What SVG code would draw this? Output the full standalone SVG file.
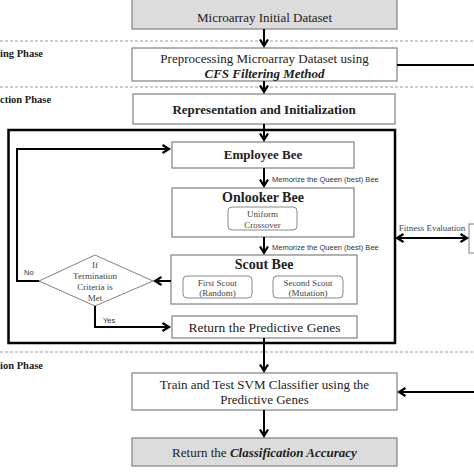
<svg xmlns="http://www.w3.org/2000/svg" width="474" height="474" viewBox="0 0 474 474">
<defs>
<style>
.box{fill:#fff;stroke:#808080;stroke-width:1.2}
.gbox{fill:#dcdcdc;stroke:#808080;stroke-width:1.2}
.rbox{fill:#fff;stroke:#8a8a8a;stroke-width:1}
.t{font-family:"Liberation Serif","Times New Roman",serif;fill:#222;text-anchor:middle}
.b{font-weight:bold}
.bi{font-weight:bold;font-style:italic}
.small{font-family:"Liberation Serif","Times New Roman",serif;fill:#444;text-anchor:middle;font-size:9px}
.lab{font-family:"Liberation Sans",Arial,sans-serif;fill:#333;font-size:7.5px}
.phase{font-family:"Liberation Serif","Times New Roman",serif;font-weight:bold;fill:#222;font-size:10.5px}
.dash{stroke:#9a9a9a;stroke-width:1;stroke-dasharray:3,2;fill:none}
.c{stroke:#000;stroke-width:2;fill:none}
</style>
<marker id="ah" markerUnits="userSpaceOnUse" markerWidth="11" markerHeight="11" refX="7.5" refY="5" orient="auto-start-reverse">
<path d="M1,1 L7.5,5 L1,9" fill="none" stroke="#000" stroke-width="2.2"/>
</marker>
</defs>
<rect width="474" height="474" fill="#fff"/>

<g id="phases">
<line class="dash" x1="0" y1="41" x2="474" y2="41"/>
<line class="dash" x1="0" y1="87" x2="474" y2="87"/>
<line class="dash" x1="0" y1="352" x2="474" y2="352"/>
<text class="phase" x="0" y="56.5">ing Phase</text>
<text class="phase" x="0" y="102.5">ction Phase</text>
<text class="phase" x="0" y="368.5">ion Phase</text>
</g>

<g id="loop-frame">
<rect x="8.5" y="130" width="386.5" height="213" fill="none" stroke="#000" stroke-width="2.5"/>
</g>

<g id="dataset">
<rect class="gbox" x="132" y="-2" width="265" height="31"/>
<text class="t" x="264.5" y="21.5" font-size="13">Microarray Initial Dataset</text>
</g>

<g id="preprocess">
<rect class="box" x="132" y="48" width="265" height="33"/>
<text class="t" x="264.5" y="62.5" font-size="13">Preprocessing Microarray Dataset using</text>
<text class="t bi" x="264.5" y="77.5" font-size="13">CFS Filtering Method</text>
</g>

<g id="representation">
<rect class="box" x="133" y="94" width="262" height="30"/>
<text class="t b" x="264" y="113.5" font-size="13">Representation and Initialization</text>
</g>

<g id="employee">
<rect class="box" x="172" y="142" width="182" height="26"/>
<text class="t b" x="263" y="158.5" font-size="13">Employee Bee</text>
</g>

<g id="onlooker">
<rect class="box" x="172" y="188" width="182" height="49"/>
<text class="t b" x="263" y="201.5" font-size="14">Onlooker Bee</text>
<rect class="rbox" x="228" y="207" width="69" height="23" rx="4"/>
<text class="small" x="262.5" y="217">Uniform</text>
<text class="small" x="262.5" y="228">Crossover</text>
</g>

<g id="scout">
<rect class="box" x="171" y="255" width="186" height="49"/>
<text class="t b" x="264" y="268.5" font-size="14">Scout Bee</text>
<rect class="rbox" x="183" y="276" width="69" height="22" rx="4"/>
<text class="small" x="217.5" y="285.5">First Scout</text>
<text class="small" x="217.5" y="296">(Random)</text>
<rect class="rbox" x="273" y="276" width="70" height="22" rx="4"/>
<text class="small" x="308" y="285.5">Second Scout</text>
<text class="small" x="308" y="296">(Mutation)</text>
</g>

<g id="decision">
<polygon points="95,255 153,281 95,306 39,281" fill="#fff" stroke="#808080" stroke-width="1"/>
<text class="small" x="95" y="268">If</text>
<text class="small" x="95" y="279">Termination</text>
<text class="small" x="95" y="290">Criteria is</text>
<text class="small" x="95" y="301">Met</text>
</g>

<g id="return-genes">
<rect class="box" x="172" y="316" width="185" height="22"/>
<text class="t" x="264.5" y="331.5" font-size="13.5">Return the Predictive Genes</text>
</g>

<g id="train">
<rect class="box" x="132" y="373" width="265" height="37"/>
<text class="t" x="264.5" y="389" font-size="13">Train and Test SVM Classifier using the</text>
<text class="t" x="264.5" y="404" font-size="13">Predictive Genes</text>
</g>

<g id="accuracy">
<rect class="gbox" x="132" y="438" width="265" height="28"/>
<text class="t" x="264.5" y="456.5" font-size="13">Return the <tspan class="bi">Classification Accuracy</tspan></text>
</g>

<g id="fitness">
<rect x="469" y="224" width="20" height="29" fill="#fff" stroke="#808080" stroke-width="1"/>
</g>

<g id="connectors">
<line class="c" x1="264" y1="29" x2="264" y2="46" marker-end="url(#ah)"/>
<line class="c" x1="264" y1="81" x2="264" y2="92" marker-end="url(#ah)"/>
<line class="c" x1="264" y1="124" x2="264" y2="140" marker-end="url(#ah)"/>
<line class="c" x1="264" y1="168" x2="264" y2="186" marker-end="url(#ah)"/>
<line class="c" x1="264" y1="237" x2="264" y2="253" marker-end="url(#ah)"/>
<line class="c" x1="171" y1="281" x2="155" y2="281" marker-end="url(#ah)"/>
<polyline class="c" points="39,281 17,281 17,149 169,149" marker-end="url(#ah)"/>
<polyline class="c" points="95,306 95,327 169,327" marker-end="url(#ah)"/>
<line class="c" x1="264" y1="338" x2="264" y2="371" marker-end="url(#ah)"/>
<line class="c" x1="264" y1="410" x2="264" y2="436" marker-end="url(#ah)"/>
<line class="c" x1="397" y1="238" x2="467" y2="238" marker-start="url(#ah)" marker-end="url(#ah)"/>
<line class="c" x1="397" y1="65" x2="474" y2="65"/>
<line class="c" x1="474" y1="392" x2="399" y2="392" marker-end="url(#ah)"/>
<text class="lab" x="272" y="182">Memorize the Queen (best) Bee</text>
<text class="lab" x="272" y="249.5">Memorize the Queen (best) Bee</text>
<text class="lab" x="24" y="275">No</text>
<text class="lab" x="103" y="323">Yes</text>
<text class="small" x="432" y="231" font-size="8">Fitness Evaluation</text>
</g>
</svg>
